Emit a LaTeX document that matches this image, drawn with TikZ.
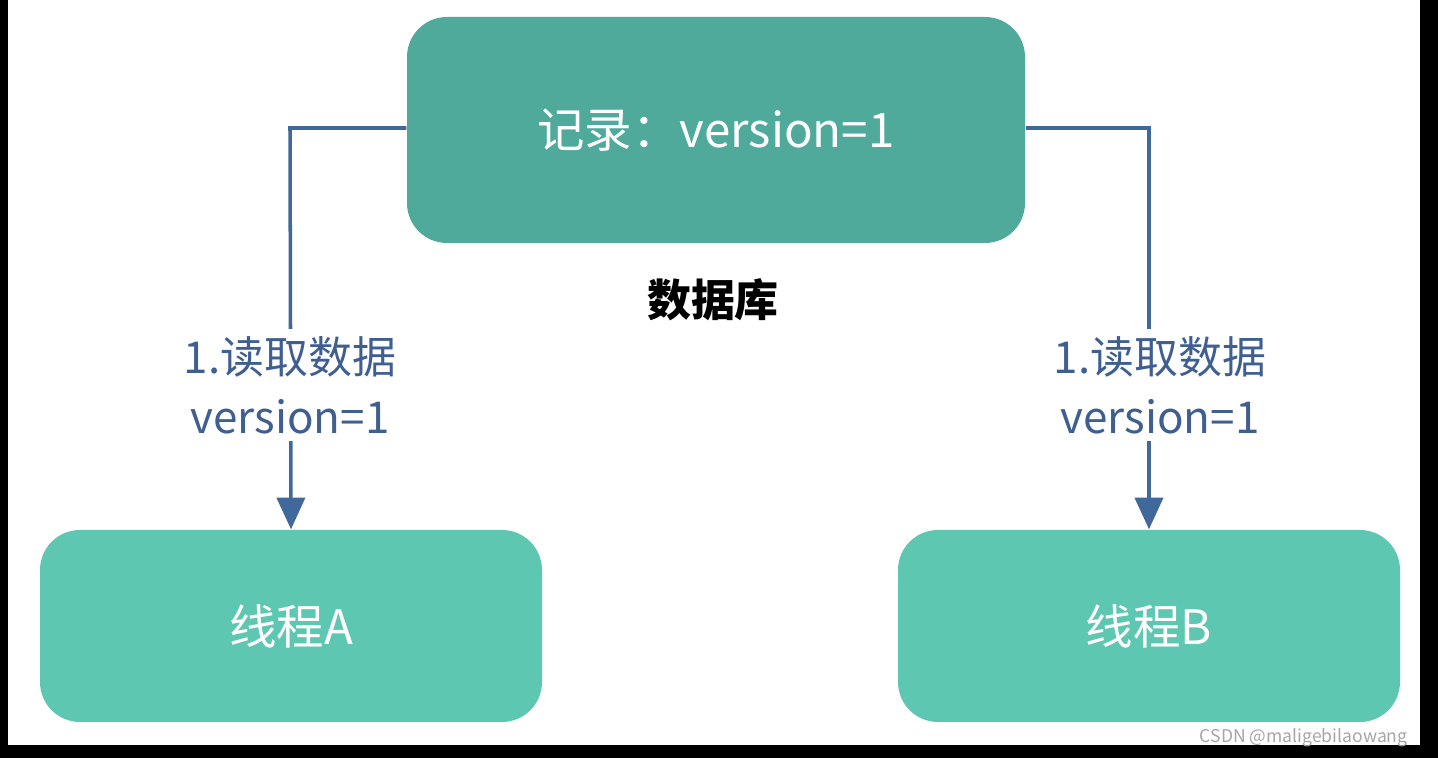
\documentclass[tikz,border=0pt]{standalone}
\usepackage{fontspec}
\setmainfont{Noto Sans CJK SC}
\usetikzlibrary{arrows.meta}
\definecolor{topc}{HTML}{4FAA9C}
\definecolor{botc}{HTML}{5EC7B2}
\definecolor{linec}{HTML}{41689A}
\definecolor{labc}{HTML}{3F5F90}
\tikzset{
 box/.style={fill=#1,rounded corners=40*0.01cm,text=white,font=\fontsize{13.5}{15}\selectfont,inner sep=0pt},
 conn/.style={draw=linec,line width=1pt},
 lab/.style={fill=white,text=labc,font=\fontsize{12.5}{17}\selectfont,align=center,inner sep=2pt}
}
\begin{document}
\begin{tikzpicture}[x=0.01cm,y=-0.01cm]
\fill[black] (0,0) rectangle (1438,758);
\fill[white] (8,0) rectangle (1420,745);
\useasboundingbox (0,0) rectangle (1438,758);
\node[box=topc,minimum width=618*0.01cm,minimum height=226*0.01cm] (db) at (716,130) {记录：version=1};
\node[box=botc,minimum width=502*0.01cm,minimum height=192*0.01cm] (ta) at (291,626) {线程A};
\node[box=botc,minimum width=502*0.01cm,minimum height=192*0.01cm] (tb) at (1149,626) {线程B};
\node[font=\fontsize{12.5}{14}\selectfont\bfseries] (dbl) at (713,300) {数据库};
\coordinate (lc) at (290,128);
\coordinate (rc) at (1149,128);
\draw[conn,-{Triangle[length=9pt,width=8pt]}] (db.west|-lc) -- (lc) -- (ta.north);
\draw[conn,-{Triangle[length=9pt,width=8pt]}] (db.east|-rc) -- (rc) -- (tb.north);
\node[lab] (la) at (290,385) {1.读取数据\\version=1};
\node[lab] (lb) at (1160,385) {1.读取数据\\version=1};
\node[text=gray!70,font=\fontsize{5}{6}\selectfont,anchor=east] (wm) at (1420,738) {CSDN @maligebilaowang};
\end{tikzpicture}
\end{document}
